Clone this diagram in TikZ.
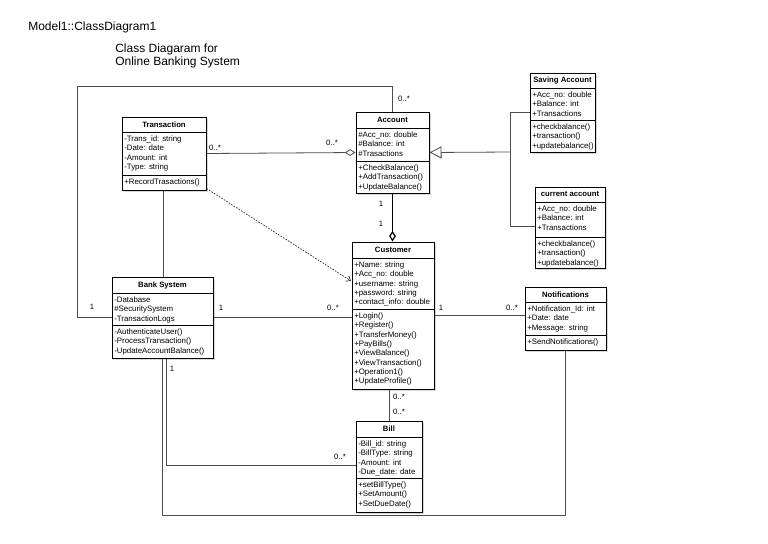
\documentclass[tikz,border=0pt]{standalone}
\usepackage{fontspec}
\setmainfont{Liberation Sans}
\usetikzlibrary{arrows.meta,fit}
\tikzset{
  clsbox/.style={draw=black,line width=0.75pt,inner sep=0pt,fill=white},
  shadowbox/.style={fill=black!15},
  clstitle/.style={font=\fontsize{5.8}{7}\selectfont\bfseries,inner sep=0pt},
  clstext/.style={font=\fontsize{5.9}{7}\selectfont,align=left,inner sep=0pt,anchor=north west},
  conn/.style={draw=black!70,line width=0.6pt},
  mult/.style={font=\fontsize{5.8}{7}\selectfont,inner sep=0pt},
  agg/.style={-{Diamond[open,length=8pt,width=5pt]}},
  gen/.style={-{Triangle[open,length=9pt,width=9pt]}},
  dep/.style={dash pattern=on 1.2pt off 1pt,-{Straight Barb[length=3pt,width=4.5pt]}},
}
% name, x1, y1, x2, y2, sep1, sep2, title
\newcommand\umlcls[8]{%
  \fill[shadowbox] (#2+2,#3+2) rectangle (#4+2,#5+2);
  \node[clsbox,fit={(#2,#3) (#4,#5)}] (#1) {};
  \draw[line width=0.75pt] (#2,#6) -- (#4,#6);
  \draw[line width=0.75pt] (#2,#7) -- (#4,#7);
  \coordinate (#1-s1) at (#2+2,#6+3.5);
  \coordinate (#1-s2) at (#2+2,#7+3.5);
  \node[clstitle] (#1-t) at ({(#2+#4)/2},{(#3+#6)/2}) {#8};
}
\begin{document}
\begin{tikzpicture}[x=0.75pt,y=-0.75pt]
\fill[white] (0,0) rectangle (768,543);
\useasboundingbox (0,0) rectangle (768,543);

\node[font=\fontsize{9}{10}\selectfont,anchor=west,inner sep=0pt] (hdr) at (28,27) {Model1::ClassDiagram1};
\node[font=\fontsize{9}{9.5}\selectfont,align=left,anchor=north west,inner sep=0pt] (ttl) at (115,44) {Class Diagaram for\\Online Banking System};

% classes
\umlcls{trans}{122}{117}{206}{190}{132}{175}{Transaction}
\node[clstext] (trans-a) at (trans-s1) {-Trans\_id: string\\-Date: date\\-Amount: int\\-Type: string};
\node[clstext] (trans-m) at (trans-s2) {+RecordTrasactions()};

\umlcls{acc}{356}{112}{429}{193}{128}{161}{Account}
\node[clstext] (acc-a) at (acc-s1) {\#Acc\_no: double\\\#Balance: int\\\#Trasactions};
\node[clstext] (acc-m) at (acc-s2) {+CheckBalance()\\+AddTransaction()\\+UpdateBalance()};

\umlcls{sav}{530}{73}{595}{152}{88}{120}{Saving Account}
\node[clstext] (sav-a) at (sav-s1) {+Acc\_no: double\\+Balance: int\\+Transactions};
\node[clstext] (sav-m) at (sav-s2) {+checkbalance()\\+transaction()\\+updatebalance()};

\umlcls{cur}{535}{187}{605}{268}{202}{237}{current account}
\node[clstext] (cur-a) at (cur-s1) {+Acc\_no: double\\+Balance: int\\+Transactions};
\node[clstext] (cur-m) at (cur-s2) {+checkbalance()\\+transaction()\\+updatebalance()};

\umlcls{cust}{352}{242}{434}{389}{258}{309}{Customer}
\node[clstext] (cust-a) at (cust-s1) {+Name: string\\+Acc\_no: double\\+username: string\\+password: string\\+contact\_info: double};
\node[clstext] (cust-m) at (cust-s2) {+Login()\\+Register()\\+TransferMoney()\\+PayBills()\\+ViewBalance()\\+ViewTransaction()\\+Operation1()\\+UpdateProfile()};

\umlcls{notif}{525}{287}{606}{350}{302}{335}{Notifications}
\node[clstext] (notif-a) at (notif-s1) {+Notification\_Id: int\\+Date: date\\+Message: string};
\node[clstext] (notif-m) at (notif-s2) {+SendNotifications()};

\umlcls{bank}{112}{277}{213}{358}{293}{325}{Bank System}
\node[clstext] (bank-a) at (bank-s1) {-Database\\\#SecuritySystem\\-TransactionLogs};
\node[clstext] (bank-m) at (bank-s2) {-AuthenticateUser()\\-ProcessTransaction()\\-UpdateAccountBalance()};

\umlcls{bill}{356}{421}{422}{512}{437}{478}{Bill}
\node[clstext] (bill-a) at (bill-s1) {-Bill\_id: string\\-BillType: string\\-Amount: int\\-Due\_date: date};
\node[clstext] (bill-m) at (bill-s2) {+setBillType()\\+SetAmount()\\+SetDueDate()};

% connectors
\coordinate (tl) at (77,86);
\draw[conn] (bank.west) -| (tl) -| (acc.north);
\draw[conn,agg] (trans.east) -- (acc.west);
\coordinate (gj) at (510,152);
\coordinate (gtop) at (510,112);
\coordinate (gbot) at (510,226);
\draw[conn,gen] (gj) -- (acc.east);
\draw[conn] (gtop -| sav.west) -- (gtop) -- (gbot) -- (gbot -| cur.west);
\draw[draw=black,line width=0.9pt,agg] (acc.south) -- (acc.south |- cust.north);
\coordinate (dend) at (351,281);
\draw[draw=black!85,line width=0.5pt,dep] ([yshift=1.5pt]trans.south east) -- (dend);
\coordinate (tb) at (163,277);
\draw[conn] (tb |- trans.south) -- (tb);
\draw[conn] (bank.east) -- (cust.west |- bank.east);
\draw[conn] (cust.east) -- (notif.west |- cust.east);
\draw[conn] (bill.north) -- (bill.north |- cust.south);
\coordinate (bb) at (166,465);
\draw[conn] (bank.south -| bb) -- (bb) -- (bb -| bill.west);
\coordinate (nb) at (162,515);
\draw[conn] (notif.south) |- (nb) -- (nb |- bank.south);

% multiplicities
\node[mult] (m1) at (404,99) {0..*};
\node[mult] (m2) at (92,307) {1};
\node[mult] (m3) at (215,148) {0..*};
\node[mult] (m4) at (332,143) {0..*};
\node[mult] (m5) at (381,204) {1};
\node[mult] (m6) at (381,224) {1};
\node[mult] (m7) at (221,308) {1};
\node[mult] (m8) at (333,308) {0..*};
\node[mult] (m9) at (441,308) {1};
\node[mult] (m10) at (512,308) {0..*};
\node[mult] (m11) at (399,397) {0..*};
\node[mult] (m12) at (399,412) {0..*};
\node[mult] (m13) at (172,369) {1};
\node[mult] (m14) at (340,457) {0..*};
\end{tikzpicture}
\end{document}
